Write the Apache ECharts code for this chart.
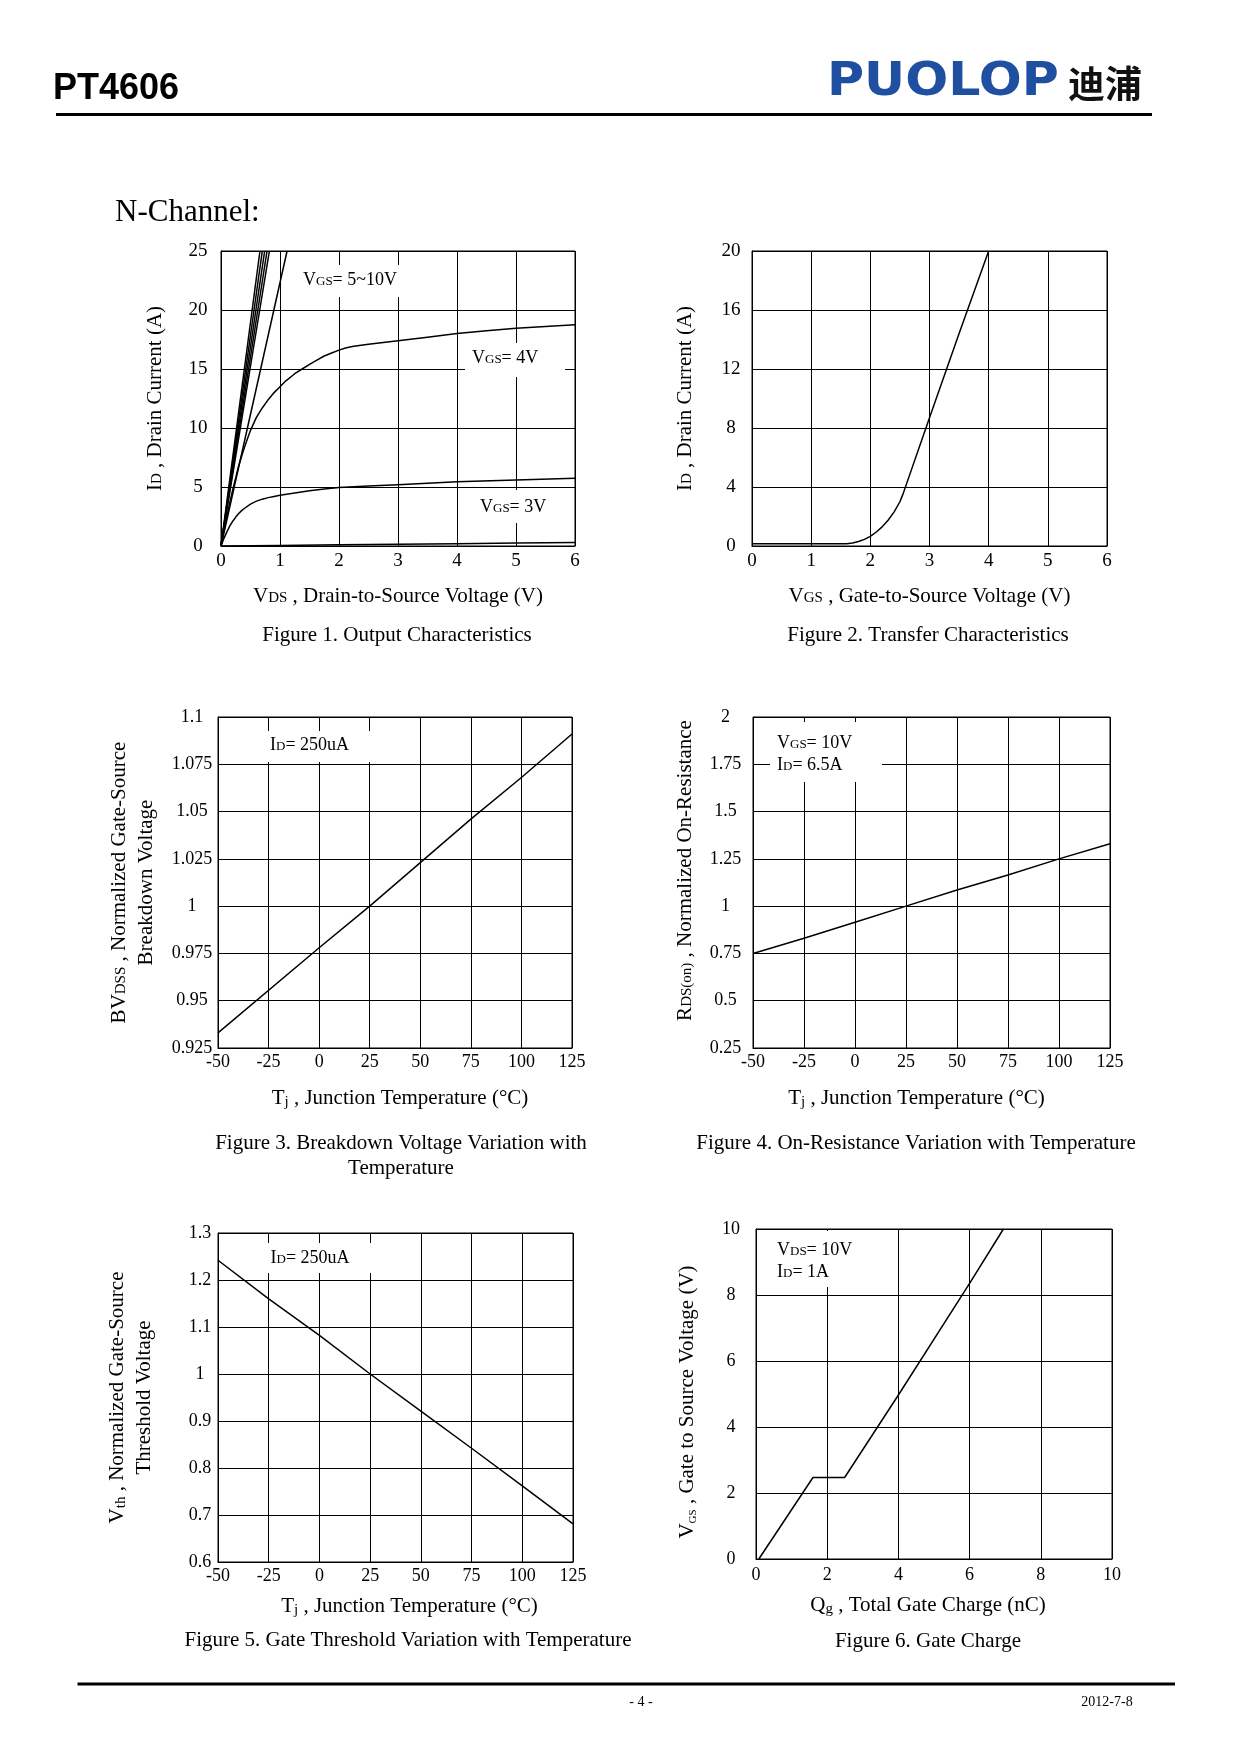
<!DOCTYPE html>
<html><head><meta charset="utf-8">
<script src="https://cdn.jsdelivr.net/npm/echarts@6/dist/echarts.min.js"></script>
<style>html,body{margin:0;padding:0;background:#fff}#c{width:1240px;height:1754px}</style>
</head><body><div id="c"></div>
<script>
// ================= DATA =================
// Figure 1. Output Characteristics (VDS [V], ID [A])
const f1XTicks = ['0','1','2','3','4','5','6'];
const f1YTicks = ['0','5','10','15','20','25'];
const f1Vgs10 = [[0,0],[0.66,25]];
const f1Vgs9  = [[0,0],[0.70,25]];
const f1Vgs8  = [[0,0],[0.74,25]];
const f1Vgs7  = [[0,0],[0.78,25]];
const f1Vgs6  = [[0,0],[0.82,25]];
const f1Vgs5  = [[0,0],[1.12,25]];
const f1Vgs4  = [[0,0],[0.05,1.3],[0.1,2.5],[0.15,3.7],[0.2,4.8],[0.25,5.8],[0.3,6.8],[0.35,7.6],[0.4,8.4],[0.45,9.1],[0.5,9.8],[0.6,10.9],[0.7,11.7],[0.8,12.4],[0.9,13.0],[1.0,13.5],[1.1,14.0],[1.25,14.6],[1.375,15.0],[1.5,15.4],[1.625,15.75],[1.75,16.1],[1.875,16.35],[2.0,16.6],[2.125,16.8],[2.25,16.93],[2.5,17.1],[3.0,17.4],[3.5,17.7],[4.0,18.0],[4.5,18.25],[5.0,18.45],[5.5,18.6],[6.0,18.75]];
const f1Vgs35 = [[0,0],[0.05,0.65],[0.1,1.2],[0.15,1.7],[0.2,2.1],[0.25,2.45],[0.3,2.75],[0.35,3.0],[0.4,3.2],[0.5,3.55],[0.6,3.8],[0.7,3.97],[0.8,4.1],[0.9,4.2],[1.0,4.3],[1.25,4.5],[1.5,4.68],[1.75,4.83],[2.0,4.95],[2.5,5.08],[3.0,5.2],[4.0,5.45],[5.0,5.6],[6.0,5.75]];
const f1Vgs3  = [[0,0],[1,0.05],[2,0.1],[3,0.15],[4,0.2],[5,0.25],[6,0.3]];

// Figure 2. Transfer Characteristics (VGS [V], ID [A])
const f2XTicks = ['0','1','2','3','4','5','6'];
const f2YTicks = ['0','4','8','12','16','20'];
const f2Id = [[0,0.15],[1,0.15],[1.6,0.15],[1.7,0.2],[1.8,0.3],[1.9,0.45],[2.0,0.65],[2.1,0.95],[2.2,1.3],[2.3,1.75],[2.4,2.3],[2.5,3.0],[2.55,3.5],[3.0,8.7],[3.5,14.4],[4.0,20]];

// Figure 3. Breakdown Voltage Variation with Temperature
const f3XTicks = ['-50','-25','0','25','50','75','100','125'];
const f3YTicks = ['0.925','0.95','0.975','1','1.025','1.05','1.075','1.1'];
const f3Bv = [[-50,0.933],[0,0.978],[25,1.0],[50,1.023],[75,1.046],[100,1.068],[125,1.091]];

// Figure 4. On-Resistance Variation with Temperature
const f4XTicks = ['-50','-25','0','25','50','75','100','125'];
const f4YTicks = ['0.25','0.5','0.75','1','1.25','1.5','1.75','2'];
const f4Rds = [[-50,0.75],[-25,0.83],[0,0.915],[25,1.0],[50,1.085],[75,1.165],[100,1.25],[125,1.33]];

// Figure 5. Gate Threshold Variation with Temperature
const f5XTicks = ['-50','-25','0','25','50','75','100','125'];
const f5YTicks = ['0.6','0.7','0.8','0.9','1','1.1','1.2','1.3'];
const f5Vth = [[-50,1.242],[-25,1.16],[0,1.082],[25,1.0],[50,0.921],[75,0.842],[100,0.762],[125,0.681]];

// Figure 6. Gate Charge (Qg [nC], VGS [V])
const f6XTicks = ['0','2','4','6','8','10'];
const f6YTicks = ['0','2','4','6','8','10'];
const f6Vgs = [[0.08,0],[1.6,2.47],[2.49,2.47],[4.0,4.97],[6.0,8.35],[6.95,10]];

// ================= STYLE / LAYOUT =================
const serif = 'Liberation Serif';
const RICH = {
  n: {fontFamily: serif, fontSize: 21, lineHeight: 27, verticalAlign: 'middle', color: '#000'},
  s: {fontFamily: serif, fontSize: 15, lineHeight: 27, verticalAlign: 'middle', color: '#000', padding: [4, 0, 0, 0]},
  j: {fontFamily: serif, fontSize: 15, lineHeight: 27, verticalAlign: 'middle', color: '#000', padding: [8, 0, 0, 0]},
  t: {fontFamily: serif, fontSize: 11, lineHeight: 27, verticalAlign: 'middle', color: '#000', padding: [12, 0, 0, 0]}
};
const ARICH = {
  a: {fontFamily: serif, fontSize: 18, lineHeight: 22, verticalAlign: 'middle', fill: '#000'},
  b: {fontFamily: serif, fontSize: 13, lineHeight: 22, verticalAlign: 'middle', fill: '#000', padding: [3.4, 0, 0, 0]}
};

const grids = [
  {left: 221, top: 251, width: 354, height: 295},
  {left: 752, top: 251, width: 355, height: 295},
  {left: 218, top: 717, width: 354, height: 331},
  {left: 753, top: 717, width: 357, height: 331},
  {left: 218, top: 1233, width: 355, height: 329},
  {left: 756, top: 1229, width: 356, height: 330}
].map(g => Object.assign(g, {show: true, borderColor: '#000', borderWidth: 1, backgroundColor: 'transparent'}));

function nearest(labels, v) {
  let best = labels[0], d = Infinity;
  labels.forEach(l => { const dd = Math.abs(Number(l) - v); if (dd < d) { d = dd; best = l; } });
  return best;
}
function pad(shift) { return shift >= 0 ? [0, 0, 0, 2 * shift] : [0, -2 * shift, 0, 0]; }
function axis(gi, labels, name, gap, margin, shift, fs, centerLabels) {
  const v = labels.map(Number);
  const lab = {margin: margin, fontFamily: serif, fontSize: fs, color: '#000',
      showMinLabel: true, showMaxLabel: true, formatter: val => nearest(labels, val)};
  if (centerLabels) lab.align = 'center';
  return {
    type: 'value', gridIndex: gi, min: v[0], max: v[v.length - 1], interval: v[1] - v[0],
    axisLine: {show: true, onZero: false, lineStyle: {color: '#000', width: 1}},
    axisTick: {show: false},
    splitLine: {show: true, lineStyle: {color: '#000', width: 1}},
    axisLabel: lab,
    name: name, nameLocation: 'middle', nameGap: gap,
    nameTextStyle: {rich: RICH, padding: pad(shift)}
  };
}
const xAxes = [
  axis(0, f1XTicks, '{n|V}{s|DS}{n| , Drain-to-Source Voltage (V)}', 37, 6, 0, 19),
  axis(1, f2XTicks, '{n|V}{s|GS}{n| , Gate-to-Source Voltage (V)}', 37, 6, 0, 19),
  axis(2, f3XTicks, '{n|T}{j|j}{n| , Junction Temperature (°C)}', 36.5, 5, 5, 18),
  axis(3, f4XTicks, '{n|T}{j|j}{n| , Junction Temperature (°C)}', 36.5, 5, -15, 18),
  axis(4, f5XTicks, '{n|T}{j|j}{n| , Junction Temperature (°C)}', 31, 5, 14, 18),
  axis(5, f6XTicks, '{n|Q}{j|g}{n| , Total Gate Charge (nC)}', 32.5, 7, -6, 18)
];
const yAxes = [
  axis(0, f1YTicks, '{n|I}{s|D}{n| , Drain Current (A)}', 52.5, 23, 0, 19, true),
  axis(1, f2YTicks, '{n|I}{s|D}{n| , Drain Current (A)}', 53.5, 21, 0, 19, true),
  axis(2, f3YTicks, '{n|BV}{s|DSS}{n| , Normalized Gate-Source}\n{n|Breakdown Voltage}', 58, 26, 0, 18, true),
  axis(3, f4YTicks, '{n|R}{s|DS(on)}{n| , Normalized On-Resistance}', 54.5, 27.5, 12, 18, true),
  axis(4, f5YTicks, '{n|V}{j|th}{n| , Normalized Gate-Source}\n{n|Threshold Voltage}', 60, 18, 0, 18, true),
  axis(5, f6YTicks, '{n|V}{t|GS}{n| , Gate to Source Voltage (V)}', 55.5, 25, -8, 18, true)
];

function line(gi, data) {
  return {type: 'line', xAxisIndex: gi, yAxisIndex: gi, data: data, symbol: 'none', showSymbol: false,
    smooth: false, silent: true, clip: true, z: 3,
    lineStyle: {color: '#000', width: 1.5, join: 'round'}};
}
const series = [
  line(0, f1Vgs10), line(0, f1Vgs9), line(0, f1Vgs8), line(0, f1Vgs7), line(0, f1Vgs6), line(0, f1Vgs5),
  line(0, f1Vgs4), line(0, f1Vgs35), line(0, f1Vgs3),
  line(1, f2Id),
  line(2, f3Bv), line(3, f4Rds), line(4, f5Vth), line(5, f6Vgs)
];

// ---- texts / decorations ----
function txt(x, y, text, font, align, fill) {
  return {type: 'text', x: x, y: y, z: 60,
    style: {text: text, font: font, fill: fill || '#000', align: align || 'left', verticalAlign: 'middle'}};
}
function box(x, y, w, h) {
  return {type: 'rect', z: 55, shape: {x: x, y: y, width: w, height: h}, style: {fill: '#fff'}};
}
function note(x, y, text) {
  return {type: 'text', x: x, y: y, z: 60,
    style: {text: text, rich: ARICH, align: 'left', verticalAlign: 'middle', fill: '#000'}};
}
const capFont = '21px "Liberation Serif"';
const graphics = [
  // header
  txt(53, 89, 'PT4606', 'bold 36px "Liberation Sans"'),
  {type: 'text', x: 827, y: 83, scaleX: 1.1, z: 60, style: {text: 'PUOLOP', font: 'bold 46px "DejaVu Sans"', fill: '#1F4FA0', verticalAlign: 'middle'}},
  txt(1068, 84, '迪浦', 'bold 37px "Noto Sans CJK SC"', 'left', '#111'),
  {type: 'line', z: 60, shape: {x1: 56, y1: 114.5, x2: 1152, y2: 114.5}, style: {stroke: '#000', lineWidth: 3}},
  txt(115, 213, 'N-Channel:', '31px "Liberation Serif"'),
  // captions
  txt(397, 635, 'Figure 1. Output Characteristics', capFont, 'center'),
  txt(928, 635, 'Figure 2. Transfer Characteristics', capFont, 'center'),
  txt(401, 1143, 'Figure 3. Breakdown Voltage Variation with', capFont, 'center'),
  txt(401, 1168, 'Temperature', capFont, 'center'),
  txt(916, 1143, 'Figure 4. On-Resistance Variation with Temperature', capFont, 'center'),
  txt(408, 1640, 'Figure 5. Gate Threshold Variation with Temperature', capFont, 'center'),
  txt(928, 1641, 'Figure 6. Gate Charge', capFont, 'center'),
  // annotation boxes
  box(297, 265, 106, 32), note(303, 280, '{a|V}{b|GS}{a|= 5~10V}'),
  box(465, 343, 100, 34), note(472, 358, '{a|V}{b|GS}{a|= 4V}'),
  box(474, 490, 80, 33), note(480, 507, '{a|V}{b|GS}{a|= 3V}'),
  box(263, 731, 110, 31), note(270, 745, '{a|I}{b|D}{a|= 250uA}'),
  box(770, 722, 112, 60), note(777, 754, '{a|V}{b|GS}{a|= 10V}\n{a|I}{b|D}{a|= 6.5A}'),
  box(263, 1243, 111, 30), note(270.5, 1258, '{a|I}{b|D}{a|= 250uA}'),
  box(770, 1231, 110, 56), note(777, 1261, '{a|V}{b|DS}{a|= 10V}\n{a|I}{b|D}{a|= 1A}'),
  // footer
  {type: 'line', z: 60, shape: {x1: 77.5, y1: 1684, x2: 1175, y2: 1684}, style: {stroke: '#000', lineWidth: 3}},
  txt(641, 1702, '- 4 -', '14px "Liberation Serif"', 'center'),
  txt(1107, 1702, '2012-7-8', '14px "Liberation Serif"', 'center')
];

const chart = echarts.init(document.getElementById('c'), null, {renderer: 'canvas'});
chart.setOption({
  animation: false,
  backgroundColor: '#fff',
  textStyle: {fontFamily: serif, color: '#000'},
  grid: grids,
  xAxis: xAxes,
  yAxis: yAxes,
  series: series,
  graphic: {elements: graphics}
});
</script></body></html>
